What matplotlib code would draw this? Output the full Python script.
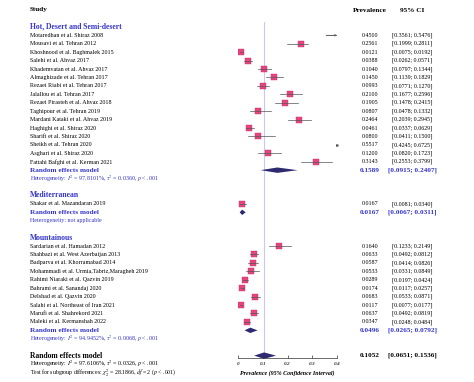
import matplotlib
matplotlib.use("Agg")
import matplotlib.pyplot as plt
from matplotlib.transforms import blended_transform_factory

plt.rcParams['font.family'] = ['Liberation Serif', 'DejaVu Serif']
plt.rcParams['mathtext.fontset'] = 'stix'

# ---- data ----
hot_studies = ["Motaredhan et al. Shiraz 2008", "Mousavi et al. Tehran 2012",
               "Khoshnood et al. Baghmalek 2015", "Salehi et al. Ahvaz 2017",
               "Khademvatan et al. Ahvaz 2017", "Almaghizade et al. Tehran 2017",
               "Rezaei Riabi et al. Tehran 2017", "Jalallou et al. Tehran 2017",
               "Rezaei Pirasteh et al. Ahvaz 2018", "Taghipour et al. Tehran 2019",
               "Mardani Kataki et al. Ahvaz 2019", "Haghighi et al. Shiraz 2020",
               "Sharifi et al. Shiraz 2020", "Sheikh et al. Tehran 2020",
               "Asghari et al. Shiraz 2020", "Fattahi Bafghi et al. Kerman 2021"]
hot_est = [0.4500, 0.2561, 0.0121, 0.0388, 0.1040, 0.1450, 0.0993, 0.2100,
           0.1905, 0.0807, 0.2464, 0.0461, 0.0800, 0.5517, 0.1200, 0.3143]
hot_lo = [0.3561, 0.1999, 0.0075, 0.0262, 0.0797, 0.1139, 0.0771, 0.1677,
          0.1478, 0.0478, 0.2039, 0.0337, 0.0411, 0.4245, 0.0820, 0.2553]
hot_hi = [0.5476, 0.2811, 0.0192, 0.0571, 0.1344, 0.1829, 0.1270, 0.2596,
          0.2415, 0.1332, 0.2945, 0.0629, 0.1500, 0.6725, 0.1723, 0.3799]
hot_summary = [0.1589, 0.0915, 0.2407]
hot_het = r"Heterogeneity: $I^2$ = 97.8101%, $\tau^2$ = 0.0360, $p$ < .001"

med_studies = ["Shakar et al. Mazandaran 2019"]
med_est = [0.0167]
med_lo = [0.0081]
med_hi = [0.0340]
med_summary = [0.0167, 0.0067, 0.0311]
med_het = "Heterogeneity: not applicable"

mnt_studies = ["Sardarian et al. Hamadan 2012", "Shahbazi et al. West Azerbaijan 2013",
               "Badparva et al. Khorramabad 2014", "Mohammadi et al. Urmia,Tabriz,Maragheh 2019",
               "Rahimi Niaraki et al. Qazvin 2019", "Bahrami et al. Sanandaj 2020",
               "Delshad et al. Qazvin 2020", "Salahi et al. Northeast of Iran 2021",
               "Marufi et al. Shahrekord 2021", "Maleki et al. Kermanshah 2022"]
mnt_est = [0.1640, 0.0633, 0.0587, 0.0533, 0.0289, 0.0174, 0.0683, 0.0117, 0.0637, 0.0347]
mnt_lo = [0.1233, 0.0492, 0.0414, 0.0331, 0.0197, 0.0117, 0.0533, 0.0077, 0.0492, 0.0248]
mnt_hi = [0.2149, 0.0812, 0.0826, 0.0849, 0.0424, 0.0257, 0.0871, 0.0177, 0.0819, 0.0484]
mnt_summary = [0.0496, 0.0265, 0.0792]
mnt_het = r"Heterogeneity: $I^2$ = 94.9452%, $\tau^2$ = 0.0068, $p$ < .001"

overall = [0.1052, 0.0651, 0.1536]
overall_het = r"Heterogeneity: $I^2$ = 97.6106%, $\tau^2$ = 0.0326, $p$ < .001"
subgroup_test = r"Test for subgroup differences: $\chi^2_2$ = 28.1866, $df$ = 2 ($p$ < .001)"

groups = [
    ("Hot, Desert and Semi-desert", hot_studies, hot_est, hot_lo, hot_hi, hot_summary, hot_het),
    ("Mediterranean", med_studies, med_est, med_lo, med_hi, med_summary, med_het),
    ("Mountainous", mnt_studies, mnt_est, mnt_lo, mnt_hi, mnt_summary, mnt_het),
]
xticks = [0, 0.1, 0.2, 0.3, 0.4]
xtick_labels = ["0", "0.1", "0.2", "0.3", "0.4"]

# ---- style ----
W, H = 474, 382
pink = "#e5457f"
navy = "#2e2a70"
blue = "#3535c8"
lineclr = "#555555"
refclr = "#cdc8e6"
fs = 4.3
fs_b = 5.2

fig = plt.figure(figsize=(W / 100, H / 100), dpi=100)
x0_px, x1_px = 238, 337
row_h, row0 = 8.43, 10
ax = fig.add_axes([x0_px / W, 0, (x1_px - x0_px) / W, 1])
ax.set_xlim(0, 0.4)
ax.set_ylim((H - row0) / row_h, -row0 / row_h)
ax.axis('off')
tr = blended_transform_factory(fig.transFigure, ax.transData)

name_x = 30 / W
prev_x = 370 / W
ci_x = 412 / W


def cols(row, est, lo, hi, bold=False, color='black'):
    w = 'bold' if bold else 'normal'
    f = fs_b if bold else fs
    ax.text(prev_x, row, "%.4f" % est, transform=tr, ha='center', va='center',
            fontsize=f, fontweight=w, color=color)
    ax.text(ci_x, row, "[%.4f; %.4f]" % (lo, hi), transform=tr, ha='center', va='center',
            fontsize=f, fontweight=w, color=color)


def diamond(row, est, lo, hi, h):
    ax.fill([lo, est, hi, est], [row, row - h, row, row + h], color=navy, lw=0, zorder=4)


# headers
ax.text(name_x, 0, "Study", transform=tr, ha='left', va='center', fontsize=fs_b, fontweight='bold')
ax.text(prev_x, 0, "Prevalence", transform=tr, ha='center', va='center', fontsize=fs_b, fontweight='bold')
ax.text(ci_x, 0, "95% CI", transform=tr, ha='center', va='center', fontsize=fs_b, fontweight='bold')

row = 2
for gname, studies, est, lo, hi, summ, het in groups:
    ax.text(name_x, row, gname, transform=tr, ha='left', va='center',
            fontsize=fs_b + 0.3, fontweight='bold', color=blue)
    row += 1
    for s, e, l, h in zip(studies, est, lo, hi):
        ax.text(name_x, row, s, transform=tr, ha='left', va='center', fontsize=fs)
        if l < 0.4:
            ax.plot([l, min(h, 0.4)], [row, row], color=lineclr, lw=0.5, zorder=3)
            if h > 0.4:
                ax.annotate("", xy=(0.4, row), xytext=(l, row),
                            arrowprops=dict(arrowstyle='->', lw=0.5, color=lineclr,
                                            mutation_scale=3, shrinkA=0, shrinkB=0))
        else:
            ax.plot([0.4], [row], marker='>', ms=1.2, color=lineclr, clip_on=False)
        if e <= 0.4:
            ax.plot(e, row, 's', ms=5.0, mfc=pink, mec="#c83068", mew=0.3, zorder=2)
        cols(row, e, l, h)
        row += 1
    ax.text(name_x, row, "Random effects model", transform=tr, ha='left', va='center',
            fontsize=fs_b, fontweight='bold', color=blue)
    diamond(row, summ[0], summ[1], summ[2], 0.32)
    cols(row, summ[0], summ[1], summ[2], bold=True, color=blue)
    row += 1
    ax.text(name_x, row, het, transform=tr, ha='left', va='center', fontsize=fs, color=blue)
    row += 2

# overall
ax.text(name_x, row, "Random effects model", transform=tr, ha='left', va='center',
        fontsize=fs_b + 0.3, fontweight='bold')
diamond(row, overall[0], overall[1], overall[2], 0.38)
cols(row, overall[0], overall[1], overall[2], bold=True)
ax.plot([overall[0], overall[0]], [1.4, row], color=refclr, lw=0.8, zorder=1)
ax.text(name_x, row + 0.95, overall_het, transform=tr, ha='left', va='center', fontsize=fs)
ax.text(name_x, row + 2.1, subgroup_test, transform=tr, ha='left', va='center', fontsize=fs - 0.1)

# x axis
axb = fig.add_axes([x0_px / W, (H - 358) / H, (x1_px - x0_px) / W, 0.0001])
axb.set_xlim(0, 0.4)
for sp in ['left', 'right', 'top']:
    axb.spines[sp].set_visible(False)
axb.spines['bottom'].set_linewidth(0.5)
axb.spines['bottom'].set_color('#333333')
axb.set_yticks([])
axb.set_xticks(xticks)
axb.set_xticklabels(xtick_labels, fontsize=3.8, fontstyle='italic', fontweight='bold')
axb.tick_params(axis='x', direction='in', length=2.5, width=0.5, pad=3, colors='#333333')
axb.set_xlabel("Prevalence (95% Confidence Interval)", fontsize=4.3, fontstyle='italic',
               fontweight='bold', labelpad=3)

fig.savefig("out.png", dpi=100)
